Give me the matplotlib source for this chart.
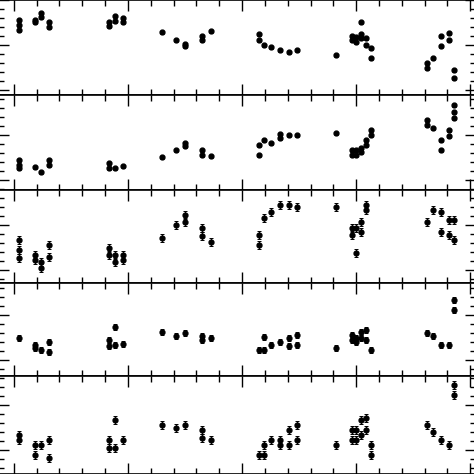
import numpy as np
import matplotlib
matplotlib.use("Agg")
import matplotlib.pyplot as plt
from matplotlib.ticker import MultipleLocator

# epochs (years since start) of each observing group
epochs = [0.05, 0.19, 0.24, 0.31, 0.83, 0.89, 0.96, 1.30, 1.42, 1.50, 1.65, 1.73,
          2.15, 2.19, 2.25, 2.33, 2.41, 2.48, 2.66, 2.82, 2.96, 3.00, 3.04, 3.09,
          3.13, 3.62, 3.67, 3.74, 3.81, 3.86]

# magnitudes per band, one list per epoch (empty = no data)
band1 = [[20, 25, 30], [20, 22], [13, 17], [22, 27], [22, 26], [16, 21], [18, 22],
         [32], [40], [44, 46], [36, 40], [31], [34, 40], [45], [47], [50], [52], [50],
         [], [55], [36, 40], [37, 42], [22, 34, 38], [38, 45], [48, 58],
         [63, 68], [58], [36, 46], [33, 40], [70, 78]]
band2 = [[160, 165, 168], [167], [172], [160, 165], [163, 168], [168], [166],
         [157], [150], [143, 146], [150, 155], [156], [145, 155], [140], [143],
         [134, 138], [135], [135], [], [133], [150, 155], [150, 155], [148, 152],
         [140, 145], [130, 135], [120, 125], [128], [140, 150], [130, 136],
         [105, 112, 118]]
band3 = [[240, 250, 258], [255, 260], [262, 268], [245, 257], [248, 255], [255, 262],
         [255, 260], [238], [225], [215, 222], [228, 236], [242], [235, 245], [218],
         [212], [205], [205], [207], [], [207], [228, 235], [228, 253], [222, 232],
         [205, 210], [], [222], [210], [212, 232], [220, 235], [220, 240]]
band4 = [[338], [345, 348], [350], [342, 352], [340, 346], [327, 345], [344],
         [332], [336], [333], [336, 340], [338], [350], [337, 350], [345], [342],
         [338, 346], [335, 345], [], [348], [335, 340], [338, 342], [332, 338],
         [330, 340], [350], [333], [336], [345], [345], [300, 310]]
band5 = [[435, 440], [445, 455], [445], [440, 458], [440, 448], [420, 448], [440],
         [425], [428], [425], [430, 438], [440], [455], [445, 455], [440],
         [440, 445], [430, 445], [425, 440], [], [445], [430, 440], [430, 440],
         [420, 435], [418, 430], [445, 455], [425], [432], [440], [445], [385, 395]]

bands = [band1, band2, band3, band4, band5]
errs = [1.5, 1.5, 4.0, 3.0, 4.0]
ylims = [(95, 0), (190, 95), (283, 190), (376, 283), (474, 376)]

fig = plt.figure(figsize=(4.74, 4.74), dpi=100)
bounds = [(95, 0), (190, 95), (283, 190), (376, 283), (474, 376)]
for band, err, (lo, hi), (pb, pt) in zip(bands, errs, ylims, bounds):
    ax = fig.add_axes([-0.005, 1 - pb / 474, 1.01, (pb - pt) / 474])
    xs, ys = [], []
    for t, vals in zip(epochs, band):
        for v in vals:
            xs.append(t)
            ys.append(v)
    ax.errorbar(xs, ys, yerr=err, fmt='o', color='black', ms=3.5,
                elinewidth=0.7, capsize=1.5, capthick=0.7)
    ax.set_xlim(-0.1416, 4.053)
    ax.set_ylim(lo, hi)
    ax.xaxis.set_major_locator(MultipleLocator(1))
    ax.xaxis.set_minor_locator(MultipleLocator(0.2))
    ax.yaxis.set_major_locator(MultipleLocator(45))
    ax.yaxis.set_minor_locator(MultipleLocator(9))
    ax.tick_params(which='both', direction='in', top=True, right=True,
                   labelbottom=False, labelleft=False, width=1)
    ax.tick_params(which='major', length=8)
    ax.tick_params(which='minor', length=4)
    for s in ax.spines.values():
        s.set_linewidth(1.2)

fig.savefig("out.png", dpi=100)
